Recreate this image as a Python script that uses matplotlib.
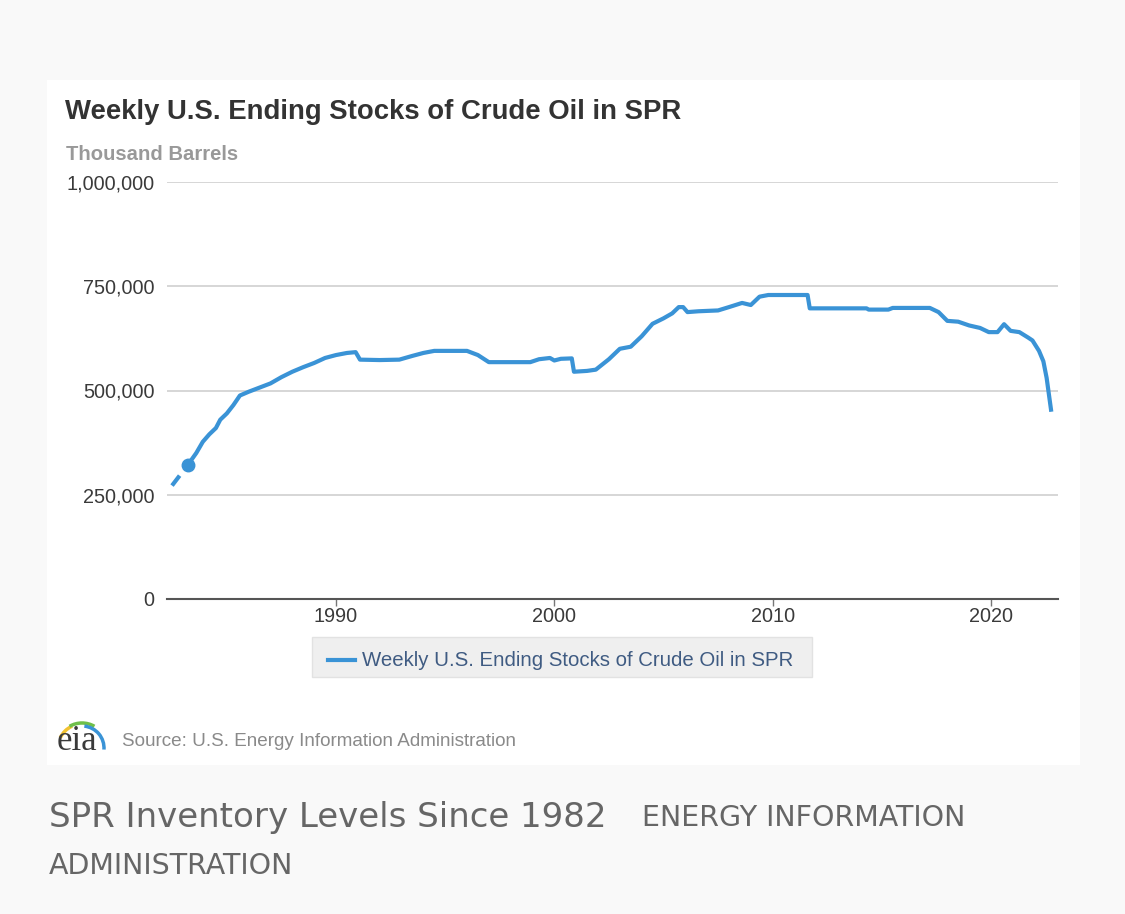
import matplotlib
matplotlib.use("Agg")
import matplotlib.pyplot as plt
from matplotlib.patches import Rectangle, Arc
import numpy as np

# ---- data (thousand barrels) ----
years = [1982.49, 1983.22, 1983.6, 1983.9, 1984.2, 1984.5, 1984.7, 1985.0, 1985.3, 1985.6,
         1986.0, 1986.5, 1987.0, 1987.5, 1988.0, 1988.5, 1989.0, 1989.5, 1990.0, 1990.5,
         1990.9, 1991.1, 1992.0, 1992.9, 1993.5, 1994.0, 1994.5, 1996.0, 1996.5, 1997.0,
         1998.9, 1999.3, 1999.8, 2000.0, 2000.3, 2000.8, 2000.9, 2001.5, 2001.9, 2002.5,
         2003.0, 2003.5, 2004.0, 2004.5, 2005.0, 2005.4, 2005.7, 2005.9, 2006.1, 2006.6,
         2007.5, 2008.0, 2008.6, 2009.0, 2009.4, 2009.8, 2011.6, 2011.7, 2014.3, 2014.4,
         2015.3, 2015.5, 2017.2, 2017.6, 2018.0, 2018.5, 2019.0, 2019.5, 2019.9, 2020.3,
         2020.6, 2020.9, 2021.3, 2021.7, 2021.9, 2022.2, 2022.4, 2022.55, 2022.75]
stocks = [272, 322, 350, 377, 395, 410, 430, 445, 465, 488,
          497, 507, 517, 532, 545, 556, 566, 578, 585, 590,
          592, 574, 573, 574, 583, 590, 595, 595, 585, 568,
          568, 575, 578, 572, 576, 577, 545, 547, 550, 575,
          600, 605, 630, 660, 673, 685, 700, 700, 688, 690,
          692, 700, 710, 705, 725, 729, 729, 697, 697, 694,
          694, 698, 698, 688, 667, 665, 656, 650, 640, 640,
          659, 643, 640, 627, 620, 595, 570, 530, 454]
stocks = [v * 1000 for v in stocks]
yticks = [0, 250000, 500000, 750000, 1000000]
xticks = [1990, 2000, 2010, 2020]

W, H = 1125, 914
fig = plt.figure(figsize=(W / 100, H / 100), dpi=100, facecolor="#f9f9f9")

def fx(x):
    return x / W

def fy(y):
    return 1 - y / H

# white chart panel
fig.patches.append(Rectangle((fx(47), fy(765)), fx(1080) - fx(47), fy(80) - fy(765),
                             transform=fig.transFigure, facecolor="white", edgecolor="none", zorder=0))

ax = fig.add_axes([fx(167), fy(599), fx(1058) - fx(167), fy(182) - fy(599)])
ax.set_zorder(5)
ax.set_facecolor("none")
ax.set_xlim(1982.26, 2023.07)
ax.set_ylim(0, 1000000)
ax.set_yticks(yticks)
ax.set_yticklabels([f"{v:,}" for v in yticks], fontsize=14.3, color="#3a3a3a", family="Liberation Sans")
ax.set_xticks(xticks)
ax.set_xticklabels([str(v) for v in xticks], fontsize=14.3, color="#3a3a3a", family="Liberation Sans")
ax.tick_params(axis="y", length=0, pad=9)
ax.tick_params(axis="x", length=5, width=1, color="#777777", direction="out", pad=1)
for s in ["top", "right", "left"]:
    ax.spines[s].set_visible(False)
ax.spines["bottom"].set_color("#555555")
ax.spines["bottom"].set_linewidth(1.5)
ax.grid(axis="y", color="#cfcfcf", linewidth=1.2)
ax.set_axisbelow(True)

blue = "#3a93d6"
ax.plot(years[:2], stocks[:2], color=blue, lw=3, linestyle=(0, (3, 2)), clip_on=False)
ax.plot(years[1:], stocks[1:], color=blue, lw=3, solid_joinstyle="round", clip_on=False)
ax.plot([years[1]], [stocks[1]], "o", color=blue, ms=9, clip_on=False)

# titles
fig.text(fx(65), fy(112), "Weekly U.S. Ending Stocks of Crude Oil in SPR", fontsize=19.8, fontweight="bold",
         color="#333333", family="Liberation Sans", va="center", ha="left")
fig.text(fx(66), fy(154), "Thousand Barrels", fontsize=14.6, fontweight="bold",
         color="#999999", family="Liberation Sans", va="center", ha="left")

# legend box
fig.patches.append(Rectangle((fx(312), fy(677)), fx(812) - fx(312), fy(637) - fy(677),
                             transform=fig.transFigure, facecolor="#efefef", edgecolor="#e2e2e2", lw=1, zorder=1))
fig.lines.append(plt.Line2D([fx(328), fx(355)], [fy(660), fy(660)], transform=fig.transFigure,
                            color=blue, lw=3, zorder=2))
fig.text(fx(362), fy(660), "Weekly U.S. Ending Stocks of Crude Oil in SPR", fontsize=14.7,
         color="#3f5b82", family="Liberation Sans", va="center", ha="left", zorder=3)

# eia logo
fig.text(fx(57), fy(742), "eia", fontsize=25, color="#3a3a3a", family="Liberation Serif",
         va="center", ha="left")
lx, ly = fx(82), fy(748)
for r, c, t1, t2 in [(24, "#f2c230", 110, 150), (25, "#6fbf4a", 65, 115), (22, "#3a93d6", -5, 85)]:
    fig.patches.append(Arc((lx, ly), 2 * r / W, 2 * r / H, theta1=t1, theta2=t2,
                           transform=fig.transFigure, color=c, lw=2.5))
fig.text(fx(122), fy(742), "Source: U.S. Energy Information Administration", fontsize=13.6,
         color="#8a8a8a", family="Liberation Sans", va="center", ha="left")

# caption
fig.text(fx(49), fy(817), "SPR Inventory Levels Since 1982", fontsize=24.5, color="#666666",
         family="DejaVu Sans", va="center", ha="left")
fig.text(fx(642), fy(818), "ENERGY INFORMATION", fontsize=20.5, color="#666666",
         family="DejaVu Sans", va="center", ha="left")
fig.text(fx(49), fy(866), "ADMINISTRATION", fontsize=20.5, color="#666666",
         family="DejaVu Sans", va="center", ha="left")

fig.savefig("out.png", dpi=100, facecolor=fig.get_facecolor())
